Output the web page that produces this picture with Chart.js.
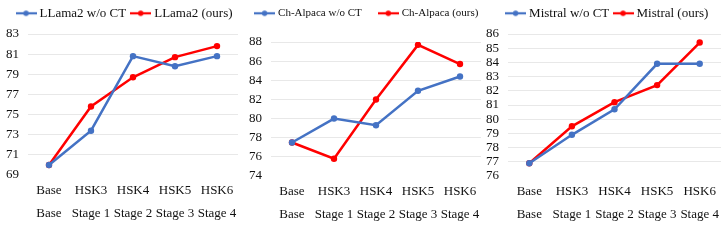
<!DOCTYPE html>
<html><head><meta charset="utf-8">
<script src="https://cdn.jsdelivr.net/npm/chart.js@4.4.0/dist/chart.umd.min.js"></script>
<style>
html,body{margin:0;padding:0;background:#fff;width:728px;height:251px;overflow:hidden;position:relative}
canvas{position:absolute;top:0}
</style></head>
<body>
<canvas id="c1" width="243" height="251" style="left:0px"></canvas>
<canvas id="c2" width="243" height="251" style="left:243px"></canvas>
<canvas id="c3" width="242" height="251" style="left:486px"></canvas>
<script>
// ---- data ----
const hskLabels = ['Base', 'HSK3', 'HSK4', 'HSK5', 'HSK6'];
const stageLabels = ['Base', 'Stage 1', 'Stage 2', 'Stage 3', 'Stage 4'];

const llamaNames = ['LLama2 w/o CT', 'LLama2 (ours)'];
const llamaWithoutCT = [70.0, 73.4, 80.8, 79.8, 80.8];
const llamaOurs = [70.0, 75.8, 78.7, 80.7, 81.8];

const alpacaNames = ['Ch-Alpaca w/o CT', 'Ch-Alpaca (ours)'];
const alpacaWithoutCT = [77.5, 80.0, 79.3, 82.9, 84.4];
const alpacaOurs = [77.5, 75.8, 82.0, 87.7, 85.7];

const mistralNames = ['Mistral w/o CT', 'Mistral (ours)'];
const mistralWithoutCT = [76.9, 78.9, 80.7, 83.9, 83.9];
const mistralOurs = [76.9, 79.5, 81.2, 82.4, 85.4];

const llamaTicks = [69, 83, 2];
const alpacaTicks = [74, 88, 2];
const mistralTicks = [76, 86, 1];

// ---- styling ----
const BLUE = '#4472C4';
const RED = '#FF0000';
const FONT = 'Liberation Serif';
const TEXT = '#111';

function legendMarker(color) {
  const c = document.createElement('canvas');
  c.width = 21; c.height = 8;
  const ctx = c.getContext('2d');
  ctx.strokeStyle = color; ctx.lineWidth = 2.2;
  ctx.beginPath(); ctx.moveTo(0, 4); ctx.lineTo(21, 4); ctx.stroke();
  ctx.fillStyle = color;
  ctx.beginPath(); ctx.arc(10.5, 4, 2.7, 0, Math.PI * 2); ctx.fill();
  return c;
}

function makeChart(id, names, base, ours, ticks, geo) {
  const labels = hskLabels.map((h, i) => [h, stageLabels[i]]);
  const colors = [BLUE, RED];
  const lg = geo.legend;
  const legendFix = {
    id: 'legendFix',
    beforeInit(chart) {
      const fit = chart.legend.fit;
      chart.legend.fit = function () {
        this.maxWidth = 2000;
        fit.call(this);
        this.height = geo.top;
      };
    },
    afterLayout(chart) {
      const L = chart.legend;
      L.left = lg.center - 1000; L.right = lg.center + 1000; L.width = 2000;
      L.top = 13.3 - lg.padding - lg.size / 2;
    }
  };
  return new Chart(document.getElementById(id), {
    type: 'line',
    data: {
      labels: labels,
      datasets: [
        { label: names[0], data: base, borderColor: BLUE, backgroundColor: BLUE,
          borderWidth: 2.5, pointRadius: 3.2, pointBorderWidth: 0, tension: 0,
          pointStyle: 'circle' },
        { label: names[1], data: ours, borderColor: RED, backgroundColor: RED,
          borderWidth: 2.5, pointRadius: 3.2, pointBorderWidth: 0, tension: 0,
          pointStyle: 'circle' }
      ]
    },
    options: {
      responsive: false,
      animation: false,
      devicePixelRatio: 1,
      layout: { padding: { left: 0, right: geo.right, top: 0, bottom: 0 } },
      plugins: {
        legend: {
          position: 'top',
          labels: {
            usePointStyle: true,
            pointStyleWidth: lg.box,
            padding: lg.padding,
            color: TEXT,
            font: { family: FONT, size: lg.size },
            generateLabels(chart) {
              return chart.data.datasets.map((ds, i) => ({
                text: ds.label, pointStyle: legendMarker(colors[i]), fillStyle: colors[i],
                strokeStyle: colors[i], lineWidth: 0, hidden: false, datasetIndex: i,
                fontColor: TEXT
              }));
            }
          }
        },
        tooltip: { enabled: false }
      },
      scales: {
        x: {
          offset: true,
          grid: { display: false, drawTicks: false },
          border: { display: false },
          ticks: { color: TEXT, padding: 4, maxRotation: 0, autoSkip: false,
                   font: { family: FONT, size: 13, lineHeight: 1.77 } },
          afterFit(scale) { scale.height = 251 - geo.bottom; }
        },
        y: {
          min: ticks[0], max: ticks[1],
          grid: { drawTicks: false, lineWidth: 1,
                  color: (ctx) => ctx.index === 0 ? 'rgba(0,0,0,0)' : '#e8e8e8' },
          border: { display: false },
          ticks: { stepSize: ticks[2], autoSkip: false, color: TEXT, padding: 9,
                   font: { family: FONT, size: 13 } },
          afterFit(scale) { scale.width = geo.left; }
        }
      }
    },
    plugins: [legendFix]
  });
}

makeChart('c1', llamaNames, llamaWithoutCT, llamaOurs, llamaTicks,
  { left: 28, right: 5, top: 34, bottom: 175, legend: { size: 13, box: 14, padding: 7.5, center: 125.8 } });
makeChart('c2', alpacaNames, alpacaWithoutCT, alpacaOurs, alpacaTicks,
  { left: 28, right: 5, top: 42, bottom: 176, legend: { size: 11, box: 16, padding: 18.5, center: 124.5 } });
makeChart('c3', mistralNames, mistralWithoutCT, mistralOurs, mistralTicks,
  { left: 22, right: 7, top: 34, bottom: 176, legend: { size: 13, box: 14, padding: 6.8, center: 122.5 } });
</script>
</body></html>
